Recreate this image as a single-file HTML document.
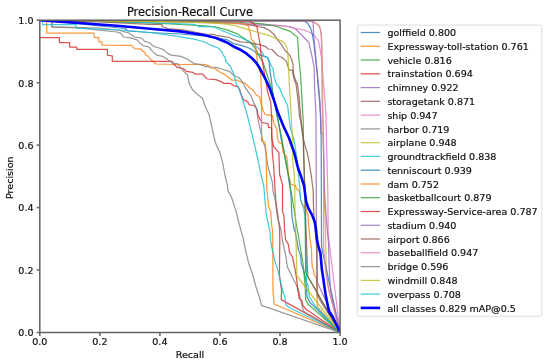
<!DOCTYPE html>
<html><head><meta charset="utf-8"><title>Precision-Recall Curve</title>
<style>
html,body{margin:0;padding:0;background:#fff;}
svg{display:block;}
text{font-family:"DejaVu Sans","Liberation Sans",sans-serif;fill:#111111;stroke:#111111;stroke-width:0.2px;}
</style></head><body>
<svg width="550" height="363" viewBox="0 0 550 363">
<rect x="0" y="0" width="550" height="363" fill="#ffffff"/>
<filter id="soft" x="0" y="0" width="550" height="363" filterUnits="userSpaceOnUse"><feGaussianBlur stdDeviation="0.35"/></filter>
<g filter="url(#soft)">

<defs><clipPath id="ax"><rect x="39.8" y="20.2" width="300.3" height="312.3"/></clipPath></defs>
<g fill="none" stroke-linejoin="round" stroke-linecap="butt" clip-path="url(#ax)">
<polyline points="39.8,20.2 52.0,21.0 90.0,25.0 125.0,28.5 128.0,31.0 150.0,32.5 180.0,34.0 205.0,36.0 227.0,39.7 233.7,43.6 240.3,45.2 249.0,48.0 254.6,51.3 256.6,53.6 264.3,56.4 267.6,57.5 269.3,63.0 269.8,69.6 271.0,77.4 272.0,85.0 272.6,92.0 275.0,105.0 278.0,120.0 281.0,138.0 284.0,152.0 288.0,174.0 291.0,195.0 291.3,202.6 292.0,217.0 293.5,226.0 295.7,234.7 297.0,241.0 298.4,249.7 300.6,255.5 301.3,264.3 303.5,270.0 305.7,279.0 306.4,285.0 307.0,296.7 310.0,302.5 313.0,305.4 340.1,332.5" stroke="#1f77b4" stroke-width="1.25" opacity="0.8"/>
<polyline points="39.8,20.2 46.7,20.2 46.7,33.1 93.9,33.1 94.5,37.5 98.8,37.5 98.8,41.9 102.0,41.9 102.0,45.2 131.5,45.3 132.6,47.0 134.8,48.6 141.5,49.2 142.6,51.4 144.8,52.0 145.3,54.7 148.0,56.3 151.4,60.2 153.6,61.3 155.8,64.0 175.0,64.5 198.5,64.3 205.0,64.7 209.4,65.8 210.5,68.0 215.0,68.5 219.3,71.8 224.8,74.6 229.3,78.0 231.5,80.0 237.0,80.0 240.3,81.8 244.7,82.9 247.0,85.0 249.0,87.3 252.4,90.0 253.6,91.0 256.5,95.3 259.5,96.8 260.9,102.6 263.0,110.0 265.0,114.3 272.3,115.7 273.8,123.0 276.7,128.9 277.6,139.0 278.9,142.4 281.8,143.8 283.2,152.6 286.9,157.0 288.4,174.5 289.0,177.3 291.2,184.6 295.5,185.3 296.3,189.0 299.2,190.4 300.7,200.7 302.8,205.0 305.8,208.0 308.0,215.3 308.7,226.0 310.0,239.0 311.4,248.0 311.8,260.0 312.3,267.3 313.6,270.0 314.0,274.5 316.0,277.3 316.8,279.0 317.0,300.0 317.4,306.8 340.1,332.5" stroke="#ff7f0e" stroke-width="1.25" opacity="0.8"/>
<polyline points="39.8,20.2 100.0,21.5 150.0,23.0 180.0,24.5 205.0,25.9 216.0,27.0 227.0,29.8 238.0,34.2 243.6,38.0 251.3,43.6 255.7,49.0 259.0,56.0 263.2,63.0 267.6,76.3 271.0,86.2 272.0,89.5 278.0,120.0 281.8,138.0 284.0,152.6 288.4,174.5 290.5,188.0 294.2,210.0 296.4,224.5 299.3,241.0 301.3,252.6 303.5,267.0 305.0,285.0 305.7,299.6 307.9,304.0 340.1,332.5" stroke="#2ca02c" stroke-width="1.25" opacity="0.8"/>
<polyline points="39.8,37.7 59.4,37.7 59.4,42.5 69.6,42.5 69.6,47.1 76.8,47.1 76.8,49.4 107.4,49.4 107.4,55.1 112.3,55.9 112.3,61.4 172.0,61.4 174.3,64.7 177.6,67.4 183.0,68.5 186.4,71.3 193.0,72.4 195.2,74.0 203.0,74.0 205.0,76.8 207.2,79.0 216.0,79.6 221.5,81.8 223.7,83.4 230.4,83.4 233.7,85.6 238.0,86.7 239.7,89.5 240.5,92.4 243.4,99.7 247.8,101.9 249.2,104.8 254.3,105.5 257.3,109.9 258.0,115.0 261.6,122.3 265.0,123.0 268.0,123.8 268.6,127.4 271.6,128.0 272.0,139.0 272.3,152.6 273.8,167.0 275.0,189.0 276.0,202.6 278.1,217.0 279.6,229.0 279.8,241.0 279.4,274.5 281.6,291.0 281.2,299.6 340.1,332.5" stroke="#d62728" stroke-width="1.25" opacity="0.8"/>
<polyline points="39.8,20.2 150.0,21.5 205.0,22.6 232.6,23.2 249.0,24.8 277.0,25.4 284.8,26.0 291.4,27.0 295.8,29.2 299.0,32.5 302.4,35.8 305.7,39.2 309.0,42.5 310.0,48.0 311.2,52.6 312.7,60.0 314.2,67.7 314.6,88.0 315.4,102.6 316.0,117.0 316.4,225.0 316.8,248.0 317.2,282.0 340.1,332.5" stroke="#9467bd" stroke-width="1.25" opacity="0.8"/>
<polyline points="39.8,20.2 150.0,20.8 240.0,22.0 250.0,25.0 257.2,26.5 263.8,27.6 269.3,30.3 273.7,34.2 277.0,39.2 281.5,44.7 284.8,50.2 289.2,54.6 290.8,57.5 293.0,64.1 293.5,74.0 295.2,79.6 297.4,84.0 298.5,92.0 299.3,99.7 300.8,117.2 302.3,131.8 303.2,138.0 305.0,145.5 307.3,153.0 309.5,164.3 311.7,178.9 313.2,191.0 313.4,202.6 314.0,217.0 315.8,238.0 316.8,248.0 317.0,285.0 317.4,296.0 340.1,332.5" stroke="#8c564b" stroke-width="1.25" opacity="0.8"/>
<polyline points="39.8,20.2 200.0,21.5 260.0,24.0 284.8,26.0 295.0,28.3 304.0,30.0 310.5,32.8 315.0,36.0 318.6,41.5 320.0,49.0 321.8,60.0 323.3,83.0 324.0,88.0 325.6,110.0 326.0,120.0 326.8,153.0 327.8,191.0 328.2,234.5 340.1,332.5" stroke="#e377c2" stroke-width="1.25" opacity="0.8"/>
<polyline points="39.8,20.2 52.0,20.2 52.0,26.8 100.0,28.0 120.0,30.5 129.3,33.2 134.8,37.0 141.5,38.1 144.8,41.4 149.2,42.5 153.6,46.4 159.0,48.0 163.5,49.7 168.0,53.6 171.2,55.2 181.0,56.4 187.5,59.2 194.0,63.6 200.7,64.7 205.0,66.3 210.0,67.0 216.0,67.3 221.5,69.0 229.3,71.3 233.7,75.2 239.2,78.0 241.4,80.7 243.6,84.0 245.8,88.4 250.7,95.3 253.6,102.6 256.5,108.4 258.0,120.0 260.9,131.8 262.5,140.0 265.0,146.8 268.0,167.0 272.3,181.8 273.0,191.0 275.2,199.7 277.4,217.0 281.0,230.0 282.5,241.0 283.8,246.8 286.0,257.0 287.4,267.0 292.5,277.5 298.4,289.0 300.6,299.6 303.5,311.3 340.1,332.5" stroke="#7f7f7f" stroke-width="1.25" opacity="0.8"/>
<polyline points="39.8,20.2 313.0,21.5 319.5,26.0 321.4,34.0 322.0,49.0 322.7,88.0 322.7,117.0 323.4,141.0 324.0,188.0 325.5,230.0 326.0,263.0 327.3,278.0 328.2,287.0 340.1,332.5" stroke="#bcbd22" stroke-width="1.25" opacity="0.8"/>
<polyline points="39.8,20.2 100.0,21.5 150.0,22.6 194.0,24.3 198.5,26.5 205.0,26.5 213.8,27.0 221.5,30.3 227.0,32.5 233.7,35.3 241.4,38.0 249.0,41.4 254.6,44.7 258.0,48.0 262.0,52.0 264.3,56.4 267.6,57.5 269.8,63.0 273.0,68.5 274.3,77.4 276.5,84.0 279.8,88.4 282.5,95.3 287.6,105.5 289.0,117.2 290.5,128.9 293.5,137.6 294.2,141.0 295.0,146.0 297.0,160.0 299.0,180.0 300.8,199.7 303.7,208.4 305.1,217.0 306.1,238.0 306.4,282.0 307.9,285.0 309.3,296.7 313.0,302.5 316.0,307.0 340.1,332.5" stroke="#17becf" stroke-width="1.25" opacity="0.8"/>
<polyline points="39.8,20.2 304.0,21.0 307.7,23.3 310.5,27.8 312.3,34.2 313.6,41.5 314.5,49.0 315.8,60.0 317.3,75.0 318.3,88.0 319.7,102.6 320.5,117.0 321.2,141.0 321.5,241.0 321.8,248.0 340.1,332.5" stroke="#1f77b4" stroke-width="1.25" opacity="0.8"/>
<polyline points="39.8,20.2 100.0,20.8 200.0,22.0 240.0,23.5 248.0,25.4 250.2,32.5 251.3,39.2 254.6,42.5 255.7,48.0 256.8,56.0 257.4,63.0 260.7,74.0 261.5,92.0 261.6,141.0 265.0,142.0 266.0,152.0 266.8,189.0 268.6,207.0 270.8,211.4 271.6,224.5 272.6,231.8 272.7,241.0 273.0,291.0 274.1,304.0 340.1,332.5" stroke="#ff7f0e" stroke-width="1.25" opacity="0.8"/>
<polyline points="39.8,20.2 150.0,21.0 236.0,22.0 249.0,22.0 255.0,23.2 266.0,24.3 277.0,26.5 283.7,29.2 290.3,31.4 294.7,35.3 297.5,37.0 298.0,45.0 299.0,60.0 300.6,75.0 302.0,100.0 303.2,120.0 303.6,153.0 304.1,167.0 304.4,179.0 305.0,188.0 305.3,238.0 305.7,273.0 340.1,332.5" stroke="#2ca02c" stroke-width="1.25" opacity="0.8"/>
<polyline points="39.8,20.2 150.0,20.5 240.0,20.8 249.0,21.0 256.8,26.0 258.0,32.5 260.0,43.6 261.2,56.0 262.0,58.6 264.3,73.0 266.5,85.0 267.6,92.0 270.8,102.6 271.6,117.0 271.6,138.0 273.8,146.8 278.9,152.6 279.6,174.5 282.5,184.7 282.5,191.0 282.5,211.4 284.0,215.7 284.7,231.8 285.7,240.0 288.2,243.8 289.6,252.6 292.5,257.0 294.0,264.3 295.5,271.6 297.0,281.8 297.7,291.0 298.4,292.3 299.0,298.0 302.0,301.0 302.8,305.4 305.7,309.0 307.9,310.5 340.1,332.5" stroke="#d62728" stroke-width="1.25" opacity="0.8"/>
<polyline points="39.8,20.2 313.0,20.8 313.2,22.4 313.6,34.2 314.5,43.3 315.0,49.0 317.0,70.0 319.0,90.0 320.5,110.0 321.2,133.0 323.2,134.5 323.6,153.0 324.5,191.0 326.0,215.0 327.3,230.0 328.6,243.6 329.0,263.0 330.0,282.7 331.0,293.0 340.1,332.5" stroke="#9467bd" stroke-width="1.25" opacity="0.8"/>
<polyline points="39.8,20.2 100.0,22.0 150.0,24.3 162.0,24.3 162.0,26.5 167.6,28.7 183.0,29.8 205.0,34.0 213.8,34.3 216.0,35.3 222.6,36.4 229.3,37.5 233.7,39.7 240.3,41.9 249.0,42.5 253.5,43.6 260.0,44.7 266.0,46.9 268.2,49.0 272.0,49.5 275.0,52.5 277.5,55.5 282.0,57.5 286.4,61.4 288.0,66.3 289.0,70.2 292.4,70.2 293.0,74.0 294.5,80.0 296.0,84.0 297.0,92.0 298.0,100.0 299.5,117.0 300.5,120.0 302.3,131.8 303.2,138.0 304.5,180.0 306.0,230.0 307.5,270.0 308.0,276.7 340.1,332.5" stroke="#8c564b" stroke-width="1.25" opacity="0.8"/>
<polyline points="39.8,20.2 308.6,21.0 315.0,22.4 318.6,25.0 320.5,29.6 321.4,38.7 321.8,49.0 322.0,100.0 323.2,120.0 323.6,153.0 323.6,248.0 326.0,273.6 328.2,287.0 329.5,293.0 340.1,332.5" stroke="#e377c2" stroke-width="1.25" opacity="0.8"/>
<polyline points="39.8,20.2 52.0,20.5 52.0,27.2 80.0,28.0 102.0,30.3 117.0,32.0 120.5,33.2 123.8,37.0 131.5,38.1 137.0,39.8 140.4,43.6 143.7,45.8 149.2,47.0 152.5,51.4 156.9,55.2 162.4,56.3 166.8,59.0 170.0,61.3 173.0,63.3 177.6,63.5 182.0,69.6 187.5,75.0 189.0,82.9 192.4,89.5 196.7,93.8 202.5,98.2 205.4,107.0 209.0,114.3 211.3,124.5 213.5,134.7 215.0,141.0 216.4,145.3 220.0,152.6 223.0,164.3 225.1,176.0 227.3,184.7 228.0,191.0 231.3,196.8 235.7,209.9 239.3,224.5 243.0,237.6 245.4,249.7 249.0,264.3 252.7,274.5 255.7,286.0 259.3,296.7 261.5,305.4 340.1,332.5" stroke="#7f7f7f" stroke-width="1.25" opacity="0.8"/>
<polyline points="39.8,20.2 150.0,21.3 205.0,22.6 221.5,23.7 234.8,25.4 241.4,27.6 249.0,29.8 256.8,32.0 266.0,34.7 274.8,38.0 281.5,40.8 284.8,43.6 287.0,48.0 288.0,56.0 288.6,68.5 289.7,92.0 290.5,102.6 291.3,117.2 292.0,131.8 292.7,141.0 292.7,160.0 294.2,174.5 294.8,191.0 295.0,210.0 296.0,241.0 297.0,276.0 340.1,332.5" stroke="#bcbd22" stroke-width="1.25" opacity="0.8"/>
<polyline points="39.8,20.2 42.6,20.2 42.6,24.6 76.2,24.6 76.2,28.1 120.0,30.0 150.0,32.5 177.6,36.4 194.0,39.2 205.0,42.0 210.5,45.2 218.2,48.0 221.5,51.3 223.7,56.0 224.8,56.4 226.0,62.0 230.4,66.3 233.7,74.0 236.0,82.9 239.2,89.5 241.2,95.3 244.9,107.0 247.8,117.2 250.7,128.9 253.6,141.0 255.0,146.8 258.0,160.0 260.9,174.5 263.8,186.0 264.9,199.7 266.3,214.3 267.8,221.6 270.0,231.8 270.7,241.0 271.7,246.8 274.6,260.0 278.3,271.6 280.5,281.8 282.7,290.8 284.9,296.7 285.8,304.5 289.0,307.5 340.1,332.5" stroke="#17becf" stroke-width="1.25" opacity="0.8"/>
<polyline points="39.8,20.2 60.0,21.6 90.0,23.7 120.0,26.0 150.0,28.8 180.0,31.4 205.0,35.3 216.0,38.0 227.0,42.5 235.0,47.3 240.5,49.8 246.0,53.2 251.4,57.7 256.0,62.5 259.5,67.7 262.3,73.2 265.0,78.0 267.5,83.5 269.6,88.0 273.8,99.7 278.0,112.8 284.0,127.4 289.0,138.0 294.2,152.6 298.0,168.0 301.4,177.3 304.0,185.5 305.3,195.0 306.2,201.6 308.3,208.2 312.0,214.8 314.6,221.5 315.8,228.0 316.5,235.0 317.1,240.0 318.2,245.5 320.5,253.6 321.8,269.0 323.2,278.0 324.5,287.0 325.5,294.0 327.3,303.2 329.0,311.4 332.7,316.8 340.1,332.5" stroke="#0000ff" stroke-width="2.6"/>
</g>
<rect x="39.8" y="20.2" width="300.3" height="312.3" fill="none" stroke="#626262" stroke-width="1.5"/>
<g stroke="#626262" stroke-width="1.5">
<line x1="39.8" y1="332.5" x2="39.8" y2="336.0"/>
<line x1="36.599999999999994" y1="332.5" x2="39.8" y2="332.5"/>
<line x1="99.9" y1="332.5" x2="99.9" y2="336.0"/>
<line x1="36.599999999999994" y1="270.0" x2="39.8" y2="270.0"/>
<line x1="159.9" y1="332.5" x2="159.9" y2="336.0"/>
<line x1="36.599999999999994" y1="207.6" x2="39.8" y2="207.6"/>
<line x1="220.0" y1="332.5" x2="220.0" y2="336.0"/>
<line x1="36.599999999999994" y1="145.1" x2="39.8" y2="145.1"/>
<line x1="280.0" y1="332.5" x2="280.0" y2="336.0"/>
<line x1="36.599999999999994" y1="82.7" x2="39.8" y2="82.7"/>
<line x1="340.1" y1="332.5" x2="340.1" y2="336.0"/>
<line x1="36.599999999999994" y1="20.2" x2="39.8" y2="20.2"/>
</g>
<g font-size="9.55">
<text x="39.8" y="345.4" text-anchor="middle">0.0</text>
<text x="33.5" y="336.3" text-anchor="end">0.0</text>
<text x="99.9" y="345.4" text-anchor="middle">0.2</text>
<text x="33.5" y="273.8" text-anchor="end">0.2</text>
<text x="159.9" y="345.4" text-anchor="middle">0.4</text>
<text x="33.5" y="211.4" text-anchor="end">0.4</text>
<text x="220.0" y="345.4" text-anchor="middle">0.6</text>
<text x="33.5" y="148.9" text-anchor="end">0.6</text>
<text x="280.0" y="345.4" text-anchor="middle">0.8</text>
<text x="33.5" y="86.5" text-anchor="end">0.8</text>
<text x="340.1" y="345.4" text-anchor="middle">1.0</text>
<text x="33.5" y="24.0" text-anchor="end">1.0</text>
<text x="190.0" y="358.0" text-anchor="middle">Recall</text>
<text transform="translate(13.3,177.7) rotate(-90)" text-anchor="middle">Precision</text>
</g>
<text x="190.0" y="15.5" font-size="11.4" text-anchor="middle">Precision-Recall Curve</text>
<rect x="357.2" y="25.1" width="184.6" height="291.2" rx="2" ry="2" fill="#ffffff" stroke="#d4d4d4" stroke-width="0.8"/>
<g font-size="9.55">
<line x1="360.7" y1="32.5" x2="380.2" y2="32.5" stroke="#1f77b4" stroke-width="1.25" opacity="0.8"/>
<text x="387.4" y="36.1">golffield 0.800</text>
<line x1="360.7" y1="46.3" x2="380.2" y2="46.3" stroke="#ff7f0e" stroke-width="1.25" opacity="0.8"/>
<text x="387.4" y="49.9">Expressway-toll-station 0.761</text>
<line x1="360.7" y1="60.0" x2="380.2" y2="60.0" stroke="#2ca02c" stroke-width="1.25" opacity="0.8"/>
<text x="387.4" y="63.6">vehicle 0.816</text>
<line x1="360.7" y1="73.8" x2="380.2" y2="73.8" stroke="#d62728" stroke-width="1.25" opacity="0.8"/>
<text x="387.4" y="77.4">trainstation 0.694</text>
<line x1="360.7" y1="87.6" x2="380.2" y2="87.6" stroke="#9467bd" stroke-width="1.25" opacity="0.8"/>
<text x="387.4" y="91.2">chimney 0.922</text>
<line x1="360.7" y1="101.3" x2="380.2" y2="101.3" stroke="#8c564b" stroke-width="1.25" opacity="0.8"/>
<text x="387.4" y="104.9">storagetank 0.871</text>
<line x1="360.7" y1="115.1" x2="380.2" y2="115.1" stroke="#e377c2" stroke-width="1.25" opacity="0.8"/>
<text x="387.4" y="118.7">ship 0.947</text>
<line x1="360.7" y1="128.9" x2="380.2" y2="128.9" stroke="#7f7f7f" stroke-width="1.25" opacity="0.8"/>
<text x="387.4" y="132.5">harbor 0.719</text>
<line x1="360.7" y1="142.7" x2="380.2" y2="142.7" stroke="#bcbd22" stroke-width="1.25" opacity="0.8"/>
<text x="387.4" y="146.3">airplane 0.948</text>
<line x1="360.7" y1="156.4" x2="380.2" y2="156.4" stroke="#17becf" stroke-width="1.25" opacity="0.8"/>
<text x="387.4" y="160.0">groundtrackfield 0.838</text>
<line x1="360.7" y1="170.2" x2="380.2" y2="170.2" stroke="#1f77b4" stroke-width="1.25" opacity="0.8"/>
<text x="387.4" y="173.8">tenniscourt 0.939</text>
<line x1="360.7" y1="184.0" x2="380.2" y2="184.0" stroke="#ff7f0e" stroke-width="1.25" opacity="0.8"/>
<text x="387.4" y="187.6">dam 0.752</text>
<line x1="360.7" y1="197.7" x2="380.2" y2="197.7" stroke="#2ca02c" stroke-width="1.25" opacity="0.8"/>
<text x="387.4" y="201.3">basketballcourt 0.879</text>
<line x1="360.7" y1="211.5" x2="380.2" y2="211.5" stroke="#d62728" stroke-width="1.25" opacity="0.8"/>
<text x="387.4" y="215.1">Expressway-Service-area 0.787</text>
<line x1="360.7" y1="225.3" x2="380.2" y2="225.3" stroke="#9467bd" stroke-width="1.25" opacity="0.8"/>
<text x="387.4" y="228.9">stadium 0.940</text>
<line x1="360.7" y1="239.0" x2="380.2" y2="239.0" stroke="#8c564b" stroke-width="1.25" opacity="0.8"/>
<text x="387.4" y="242.6">airport 0.866</text>
<line x1="360.7" y1="252.8" x2="380.2" y2="252.8" stroke="#e377c2" stroke-width="1.25" opacity="0.8"/>
<text x="387.4" y="256.4">baseballfield 0.947</text>
<line x1="360.7" y1="266.6" x2="380.2" y2="266.6" stroke="#7f7f7f" stroke-width="1.25" opacity="0.8"/>
<text x="387.4" y="270.2">bridge 0.596</text>
<line x1="360.7" y1="280.4" x2="380.2" y2="280.4" stroke="#bcbd22" stroke-width="1.25" opacity="0.8"/>
<text x="387.4" y="284.0">windmill 0.848</text>
<line x1="360.7" y1="294.1" x2="380.2" y2="294.1" stroke="#17becf" stroke-width="1.25" opacity="0.8"/>
<text x="387.4" y="297.7">overpass 0.708</text>
<line x1="360.7" y1="307.9" x2="380.2" y2="307.9" stroke="#0000ff" stroke-width="2.6"/>
<text x="387.4" y="311.5">all classes 0.829 mAP@0.5</text>
</g>
</g></svg></body></html>
